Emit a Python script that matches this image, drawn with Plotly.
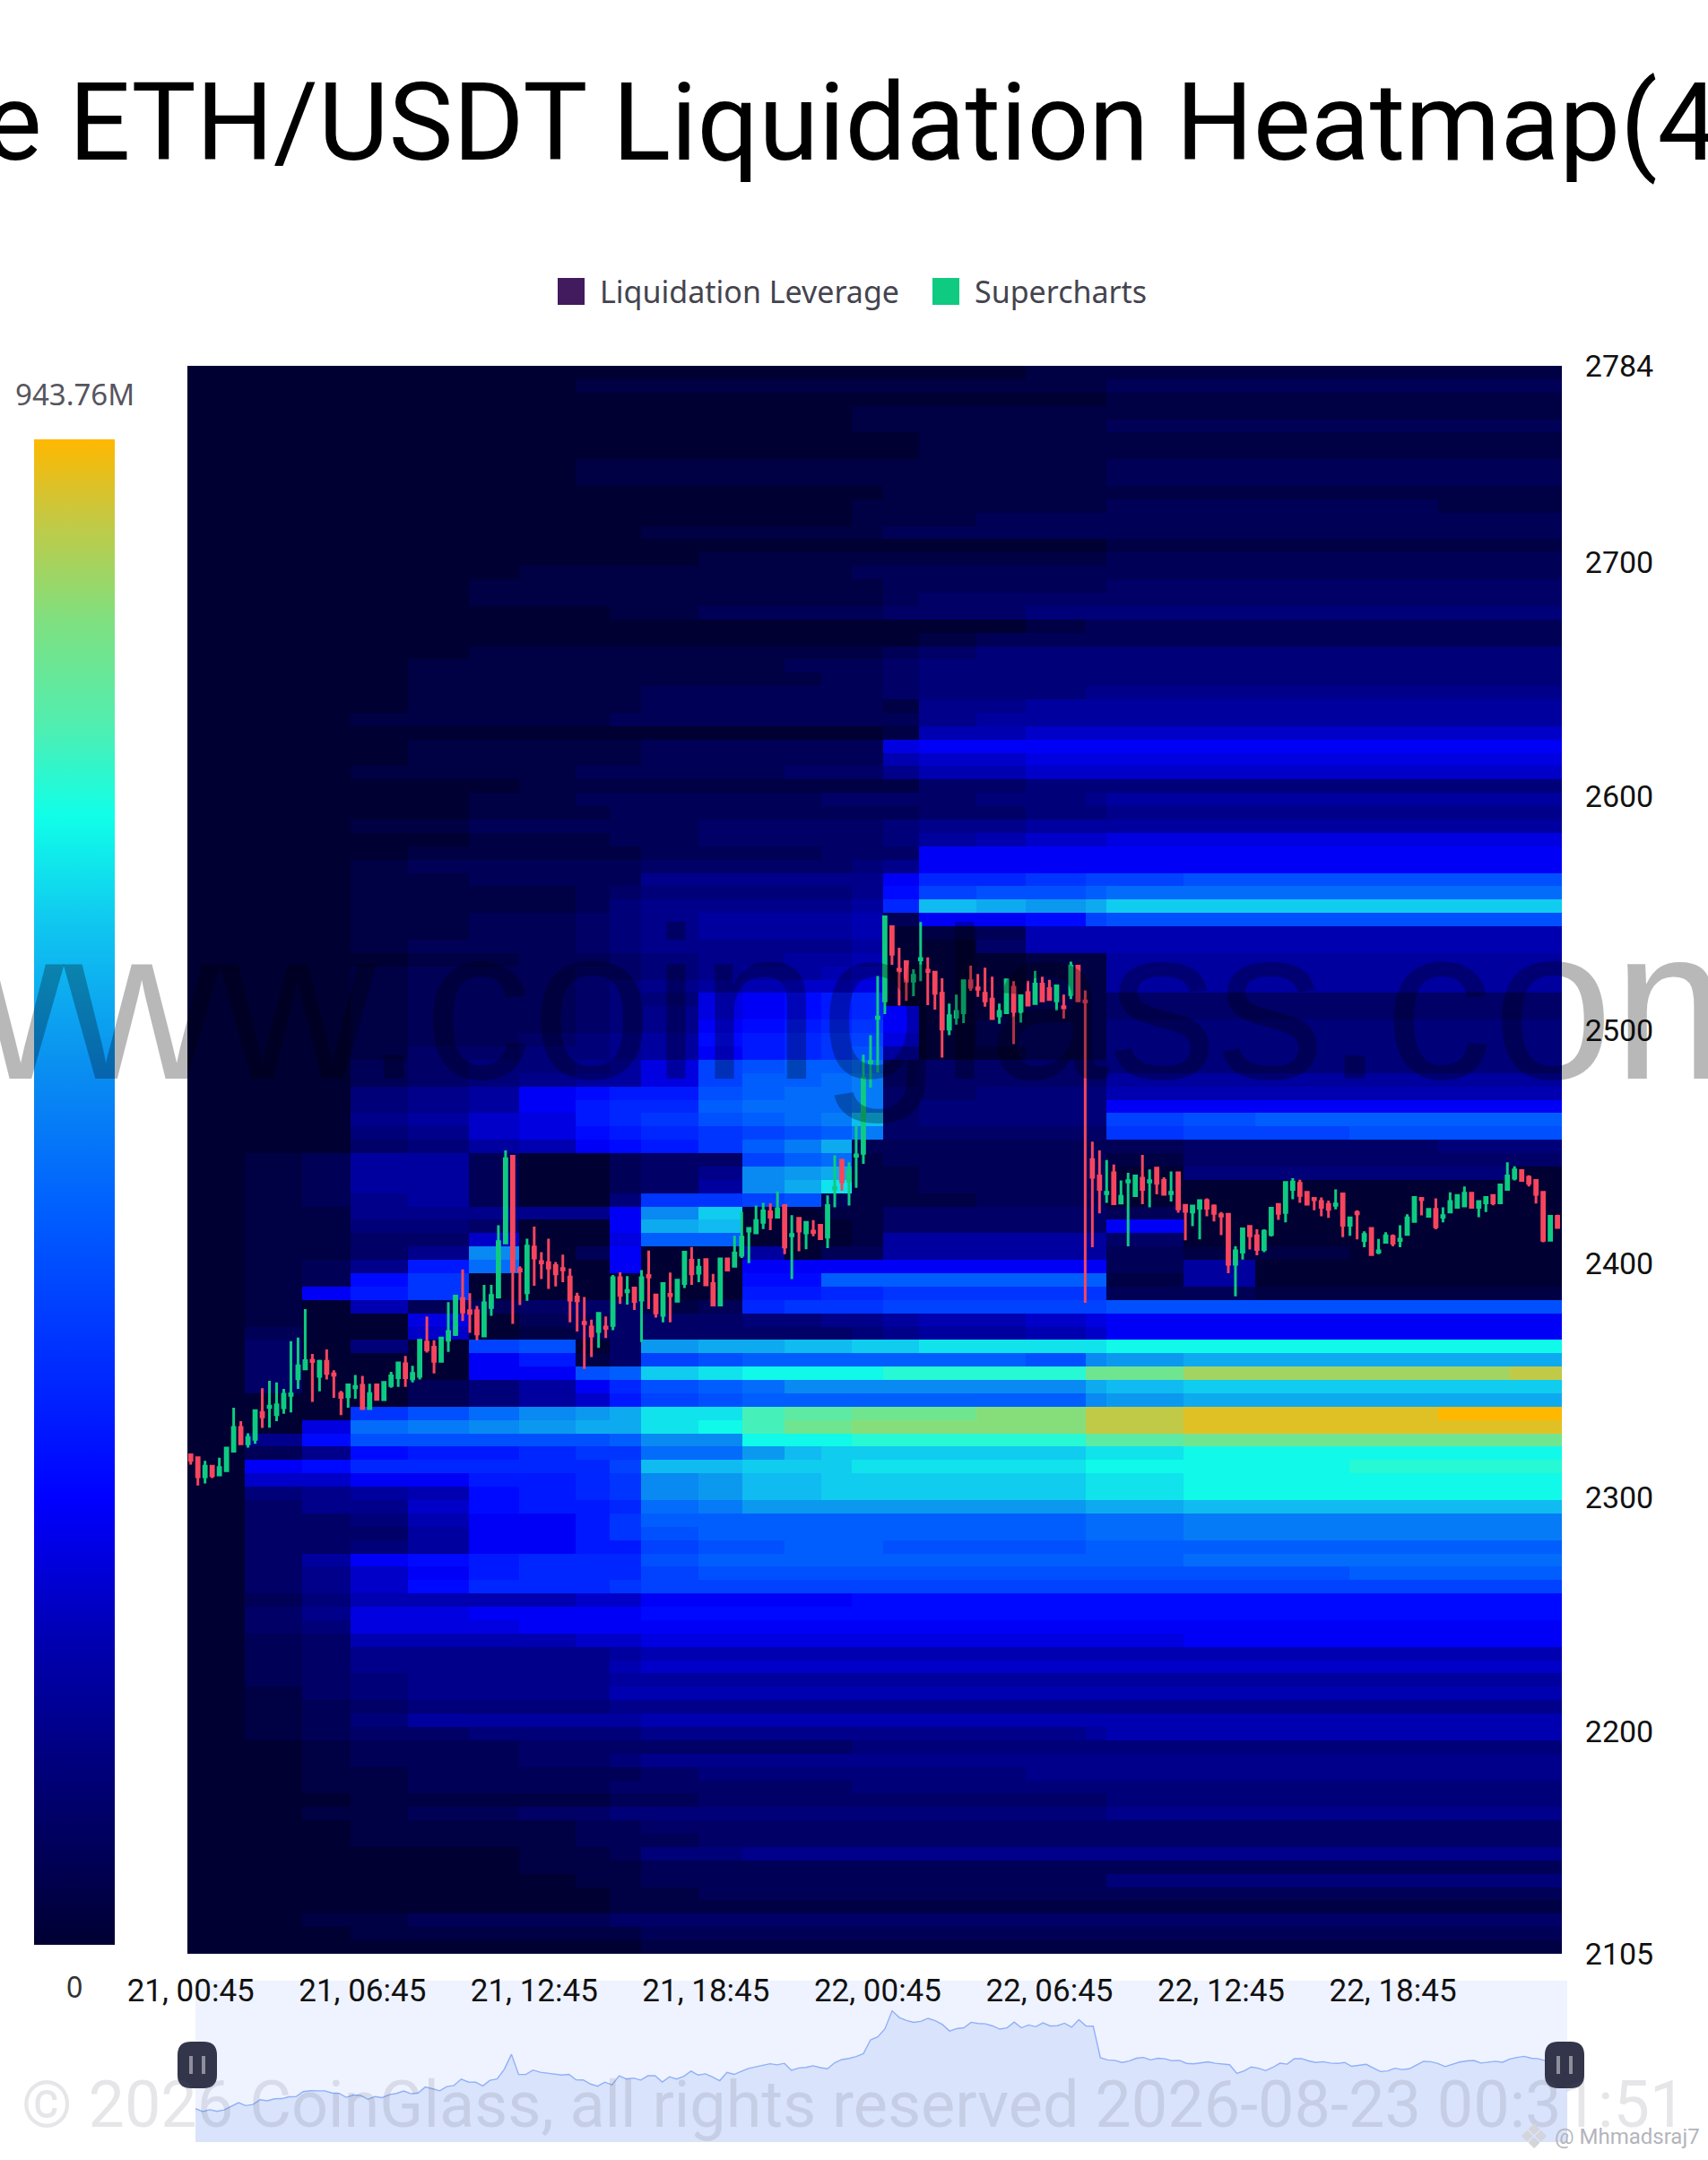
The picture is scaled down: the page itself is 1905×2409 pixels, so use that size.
import numpy as np
import pandas as pd
import plotly.graph_objs as go

W, H = 1905, 2409

TITLE = "Binance ETH/USDT Liquidation Heatmap(48 hour)"
MAX_LEVERAGE = 943.76  # millions, top of the colour bar
PRICE_TICKS = [2105, 2200, 2300, 2400, 2500, 2600, 2700, 2784]
TIME_TICKS = ["2026-08-21 00:45", "2026-08-21 06:45", "2026-08-21 12:45", "2026-08-21 18:45",
              "2026-08-22 00:45", "2026-08-22 06:45", "2026-08-22 12:45", "2026-08-22 18:45"]
TIME_LABELS = ["21, 00:45", "21, 06:45", "21, 12:45", "21, 18:45",
               "22, 00:45", "22, 06:45", "22, 12:45", "22, 18:45"]

# heatmap column edges, hours after 00:38 on the 21st
HOUR_EDGES = [0, 2.0, 4.0, 5.7, 7.7, 9.85, 11.6, 13.55, 14.75, 15.85, 17.85, 19.4, 20.85, 22.15, 23.2,
              24.3, 25.55, 27.55, 29.3, 31.4, 32.1, 34.8, 37.3, 40.6, 43.7, 46.2, 48.02]

# one string per price row, top row first, one base-36 level (0-35) per column
HEAT_ROWS = [
    "00000 00000 00000 00011 111111", "00000 00111 11111 11111 222222", "00000 00000 00000 00000 111111",
    "00000 00000 00001 11111 111111", "00000 00000 00001 11111 222222", "00000 00000 00000 01111 111111",
    "00000 00000 00000 01111 111111", "00000 00111 11111 11111 222222", "00000 00111 11111 11111 222222",
    "00000 00000 00000 11111 111111", "00000 00000 00001 11111 222211", "00000 00000 00001 11222 222222",
    "00000 00001 11111 22222 222222", "00000 00000 00000 00000 111111", "00000 00000 11111 11111 222222",
    "00000 01111 11112 22222 222222", "00000 11111 11111 22222 333333", "00000 11111 11111 23333 333333",
    "00000 00011 22222 33344 444444", "00000 00000 00000 00012 222222", "00000 00000 00000 01222 222222",
    "00000 11111 11111 23444 444444", "00001 11111 11222 34444 444444", "00001 11111 11122 34444 444444",
    "00001 11112 22222 34445 555555", "00001 11112 22222 15566 666666", "00011 11122 22222 25666 666666",
    "00000 00000 00000 17788 888888", "00001 11112 22222 9aaaa aaaaaa", "00001 11112 22222 78899 999999",
    "00011 11222 22333 57788 888888", "00000 01111 11111 13344 444444", "00000 11222 22233 33445 666666",
    "00000 11122 22222 23344 555555", "00011 22222 33333 45566 666666", "00000 11122 33333 46788 999999",
    "00001 11112 22233 3aaaa aaaaaa", "00012 22223 33334 5aaaa aaaaaa", "00011 22225 55555 addef fggggg",
    "00011 11234 44445 bfggh iiiiii", "00011 11245 55556 dnmlm oooooo", "00011 22345 66667 2aabf gggggg",
    "00011 22345 66667 01277 777777", "00012 22345 55556 00377 777777", "00001 12234 55667 00011 666666",
    "00012 22334 56678 00011 666666", "00012 22345 67889 00011 666666", "00012 22344 9abcd 00011 333333",
    "00012 22345 9abcd a0011 333333", "00012 22345 abcde a0111 444444", "00012 23456 bcdef 90111 444444",
    "00013 34456 acdeg 60011 444444", "00023 44569 fghhi 23333 444444", "00023 45669 fhhij 23333 666666",
    "00045 6abcc ghiij 33444 777777", "00045 6acdd hiiij 34444 aaaaaa", "00056 89cde ghijn 34444 fghhhh",
    "00045 89bcd efghj 33333 effggg", "00034 67abc ehjm2 22222 233344", "01266 20023 3fhi1 22222 133333",
    "01266 20023 5klm1 12222 044440", "01266 20023 6kmp1 12222 000000", "01256 2004e efg21 11222 000000",
    "01155 555ak o0011 33333 200000", "01144 300am n0001 33333 a00000", "01133 8009h h0001 66666 300000",
    "01135 k02a0 06022 66666 211000", "0125c i00a0 0aaaa aaaaa 260000", "012be 00000 0bbhh hhhhh 160000",
    "01ace 00000 0ccdd eeeee 221111", "01072 23331 2deee fffff gggggg", "01009 02233 34455 67789 aaaaaa",
    "02008 01233 33334 56678 aaaaaa", "03040 fg03l mmnno opppp qqqqqq", "03000 ac13f ghhhh hhhgk lmmmmm",
    "03000 aagho pqqqq rrrru uwwwwx", "03002 46adg hikkk kkkkm nooooo", "00002 468cf ghhhh hhhhk lmmmmm",
    "000eg iklmp psttu uuvvx xyyyzz", "009ij klmmp qsuuv vvvvx xyyyyy", "05bgg ggghk kqqqr rrrrt tuuuuu",
    "025bc cdeei ilnoo oooop pqqqqq", "0abdd dddfn nooop ppppq qqqrrr", "088aa ccdek lnnoo oooop pqqqqq",
    "04567 bcdek lnnoo oooop pqqqqq", "03558 bccdi jllll llllm mnnnnn", "03347 aaceh hhhhh hhhhi ijjjjj",
    "03336 aaceg hhhhh hhhhi ijjjjj", "03346 aaccf gghhh ggggh hhhhhh", "036ab cdddg hhhhh hhhhh hiiiii",
    "0358a cdddf ggggg ggggg ggghhh", "0358b dddef fffff fffff ffffff", "02477 7788a aaaab bbbbb bbbbbb",
    "03599 aaaab bbbbb bbbbb bbbbbb", "03499 9aaaa aaaaa aaaaa aaaaaa", "02377 77889 99999 99999 9aaaaa",
    "02355 55567 77777 77777 777777", "02355 55578 88888 88888 888888", "02345 55566 66666 66666 666666",
    "01345 55577 77777 77777 777777", "01234 44455 55555 55555 555555", "01246 66667 77777 77777 777777",
    "01233 44445 55555 55556 777777", "00122 23333 33334 44444 444444", "00122 23345 55555 55555 555555",
    "00112 22223 44444 44455 555555", "00112 22233 33334 44444 444444", "00011 11122 33333 33333 444444",
    "00112 23344 44444 44444 555555", "00011 11223 33333 33333 333333", "00011 11222 33333 33333 333333",
    "00000 01124 45555 55555 555555", "00000 01112 22222 22222 222222", "00000 00112 22222 22222 444444",
    "00000 00011 22222 22222 222222", "00000 00011 11111 11111 111111", "00112 22233 33333 33333 333333",
    "00011 11112 22222 22222 222222", "00000 00001 11111 11111 111111",
]

# 15 minute candles
OPEN = [2318.4, 2317.1, 2309, 2313.5, 2309.7, 2311.6, 2319.9, 2330.1, 2323.1, 2325, 2336.5, 2338.6, 2335.5, 2338.5, 2343.8, 2350.9,
        2355.1, 2358.8, 2351.9, 2358.3, 2353, 2344.5, 2343.2, 2347, 2348.1, 2338.1, 2348.3, 2341.9, 2348, 2351.3, 2357.3, 2350.9,
        2351.9, 2366.6, 2364.4, 2358.3, 2367.3, 2369.8, 2385.2, 2380, 2380, 2369.2, 2381.3, 2385.8, 2408.9, 2446, 2397.6, 2387.7,
        2407.2, 2401, 2400.5, 2399.3, 2398, 2394.4, 2385.8, 2375, 2373, 2371.1, 2373, 2373.7, 2394.1, 2388, 2389.7, 2384.5,
        2395, 2386.7, 2378, 2387, 2384, 2391.6, 2401.6, 2396, 2401.8, 2391.6, 2382.4, 2402.1, 2399, 2403.7, 2414, 2413.3,
        2417.8, 2422.3, 2420, 2424.9, 2412, 2419.5, 2413.3, 2414, 2416.5, 2411.4, 2432, 2444.3, 2435.4, 2446, 2447.3, 2486,
        2505, 2512.5, 2544.2, 2526, 2529.2, 2520.9, 2530, 2525.6, 2524.7, 2515.7, 2500.4, 2505.5, 2507.4, 2521.1, 2518, 2515.7,
        2513.2, 2506, 2507.4, 2518.3, 2508, 2516, 2511.3, 2519.6, 2517.7, 2512.5, 2510, 2515.1, 2527.3, 2512.5, 2444.6, 2437.6,
        2430, 2438.9, 2426, 2435, 2429.2, 2436.6, 2435, 2441, 2435.7, 2430, 2438.9, 2425, 2422.2, 2423.8, 2427.1, 2424.8,
        2421, 2421.2, 2399.8, 2405, 2416, 2412, 2406.2, 2412.6, 2425.4, 2422, 2431.8, 2434.4, 2430.6, 2428, 2426.7, 2425.4,
        2425, 2429.9, 2416.5, 2422, 2410, 2415.2, 2405, 2409.2, 2411.7, 2410, 2412.6, 2418.1, 2428, 2420.3, 2423.3, 2420,
        2422.2, 2424.2, 2424.8, 2430.2, 2424.2, 2426.1, 2429.3, 2426.1, 2431.8, 2436.6, 2439.9, 2437, 2435.7, 2430.6, 2410.1, 2420.3]
HIGH = [2318.9, 2317.3, 2315.8, 2313.5, 2317.1, 2321.2, 2338.5, 2332.7, 2327.6, 2337.2, 2346.8, 2350, 2349.3, 2346.5, 2367, 2368.5,
        2380.7, 2361.5, 2359, 2363.4, 2354.5, 2345.7, 2348.7, 2352.5, 2352.1, 2348.7, 2348.3, 2349.3, 2353.8, 2357.7, 2360.6, 2356.4,
        2367.3, 2377.5, 2367.3, 2368.3, 2383.6, 2386.2, 2397.6, 2387.5, 2382, 2391, 2391, 2416.5, 2448.5, 2446, 2399, 2410.8,
        2415.9, 2405, 2410.8, 2400.8, 2404, 2398, 2387.7, 2385.8, 2376.2, 2378.8, 2377.5, 2395.2, 2396.4, 2394.8, 2389.9, 2397.3,
        2405.7, 2386.7, 2391.6, 2396.3, 2393.1, 2405, 2407.2, 2402.1, 2401.8, 2395.7, 2402.1, 2402.1, 2412, 2422.3, 2415.2, 2424.9,
        2426.1, 2425.9, 2431, 2424.9, 2420.8, 2419.5, 2417.8, 2418.7, 2416.5, 2429.3, 2446.4, 2444.3, 2443.4, 2459.2, 2489.5, 2497.8,
        2523.2, 2548.4, 2544.2, 2535.2, 2529.2, 2526, 2546.2, 2531.1, 2524.7, 2522.1, 2511.3, 2515.1, 2521.1, 2527.5, 2524, 2526.6,
        2522.8, 2511.3, 2521.5, 2520.9, 2515.1, 2521.1, 2525.3, 2522.8, 2521.5, 2518.9, 2515.1, 2529.2, 2527.3, 2517, 2452.3, 2448.5,
        2444.4, 2442.5, 2435.7, 2438.9, 2437.9, 2446.6, 2440.4, 2441, 2437, 2439.5, 2438.9, 2425, 2425, 2427.1, 2428, 2425.4,
        2422.2, 2421.2, 2407.5, 2415, 2416.5, 2414.8, 2414.8, 2424.2, 2425.4, 2434.8, 2436.6, 2436, 2430.6, 2428, 2428.4, 2427.1,
        2431.8, 2429.9, 2419.7, 2422.9, 2413.9, 2415.2, 2410.7, 2413.5, 2412.6, 2416.5, 2421.2, 2428.4, 2428, 2423.8, 2428, 2424.2,
        2430.6, 2429.3, 2433.1, 2430.6, 2427.1, 2428.6, 2429.7, 2434, 2443.4, 2441.7, 2439.9, 2437.9, 2435.7, 2430.6, 2420.3, 2421]
LOW = [2314.1, 2305.2, 2306.1, 2308.4, 2309.4, 2311.2, 2319.9, 2322.7, 2321.4, 2323.1, 2329.9, 2330, 2332.7, 2335.9, 2336.5, 2346.5,
       2355.1, 2341, 2345.5, 2350.6, 2342.7, 2335.3, 2338.5, 2342.3, 2338.1, 2338.1, 2341.9, 2341.7, 2347, 2347.4, 2347.4, 2349.3,
       2350.6, 2362.1, 2353.2, 2358.3, 2362.4, 2369.2, 2375.6, 2370.5, 2367.3, 2369.2, 2377.8, 2385.2, 2408.9, 2374.3, 2382.4, 2384.2,
       2390.6, 2393.5, 2389.3, 2390.3, 2392.2, 2375, 2371.1, 2355.1, 2360.2, 2364.1, 2368.3, 2371.7, 2382.9, 2382.6, 2380.3, 2366.6,
       2380.7, 2377, 2375, 2375, 2384, 2389.7, 2391, 2392.2, 2390.6, 2382.4, 2382.4, 2397.3, 2399, 2402.5, 2400.3, 2412.7,
       2414.9, 2414.4, 2420, 2404.1, 2393.5, 2405.4, 2406.3, 2411.8, 2410.5, 2406.7, 2424.2, 2431.3, 2424.9, 2432.5, 2442.8, 2475.4,
       2481.8, 2506.8, 2527.9, 2510.4, 2512.5, 2514.5, 2520.9, 2510.6, 2508.7, 2488.2, 2497.8, 2502.3, 2503, 2516.8, 2514.2, 2510,
       2504.9, 2502.7, 2507, 2494, 2503.2, 2510.6, 2511.3, 2511.9, 2513, 2508.3, 2504.9, 2513.2, 2512.5, 2383.3, 2407.1, 2421.6,
       2426.1, 2425.5, 2425.5, 2407.5, 2428.9, 2425.5, 2424.2, 2429.7, 2429.7, 2426.7, 2421.9, 2410.1, 2416.1, 2410.5, 2420.3, 2418.1,
       2412.3, 2396, 2386.1, 2401.8, 2406.2, 2403.7, 2405, 2411.7, 2418.8, 2417.8, 2427.6, 2426.1, 2425, 2422.9, 2420.3, 2419.7,
       2423.3, 2411.4, 2412, 2410.5, 2407.1, 2404, 2404.1, 2408.8, 2407.5, 2407.1, 2412.3, 2417.8, 2420.7, 2420.3, 2414.8, 2417.8,
       2422, 2423.8, 2424.2, 2424.2, 2420, 2422.2, 2425, 2425.8, 2431.8, 2435.7, 2435.3, 2433.1, 2425.8, 2409.2, 2410.1, 2415.2]
CLOSE = [2316, 2309, 2313.5, 2309.4, 2312.9, 2321.2, 2330.1, 2323.1, 2325.7, 2337.2, 2334.6, 2339.2, 2339.7, 2344.2, 2344.4, 2356.4,
         2358.6, 2358.2, 2358.3, 2353.2, 2352.4, 2342.9, 2348.3, 2347.6, 2338.1, 2344.5, 2342, 2349.3, 2352.1, 2357.7, 2351.3, 2353.2,
         2367.3, 2363.2, 2358.3, 2368.3, 2371.1, 2386.2, 2379.4, 2378.8, 2370, 2383.3, 2386.5, 2409.5, 2445, 2397, 2397, 2407.6,
         2402.5, 2400.4, 2398.2, 2395.7, 2397.4, 2384.5, 2384.2, 2374.4, 2369.2, 2378.8, 2372.4, 2394.1, 2386.5, 2388.6, 2383.9, 2394.1,
         2394.4, 2379, 2391.6, 2386.4, 2393, 2405, 2395.7, 2398.6, 2391, 2382.4, 2402.1, 2397.3, 2404.6, 2411.4, 2415.2, 2418.5,
         2422.6, 2420, 2423.6, 2407.2, 2412.6, 2414, 2417.8, 2413.4, 2410.8, 2424.9, 2432.6, 2435.1, 2439.6, 2446.6, 2479.3, 2486.6,
         2505.6, 2548.4, 2532.4, 2525.4, 2520.9, 2523.4, 2530.6, 2525, 2515.7, 2500.4, 2506.1, 2508, 2521.1, 2518.3, 2517.4, 2512.5,
         2504.9, 2508, 2521.5, 2508, 2514.7, 2510.6, 2519.6, 2512.5, 2513, 2518.9, 2509.4, 2527.3, 2512.5, 2512, 2437, 2431.8,
         2430.6, 2425.7, 2428.9, 2435.6, 2437.6, 2431.8, 2435.6, 2434.4, 2429.7, 2430.6, 2423.5, 2422.5, 2424.8, 2427.1, 2423.8, 2421.6,
         2420.4, 2399.8, 2405.6, 2415, 2412, 2406.2, 2413.9, 2423.8, 2421.6, 2434.8, 2435, 2429.3, 2425.5, 2427.4, 2424.2, 2423.3,
         2425.6, 2416.5, 2419.7, 2421.4, 2412.6, 2404, 2405.6, 2412, 2408.8, 2410.6, 2419.7, 2428.4, 2427.4, 2423.3, 2415.8, 2420.6,
         2426.7, 2429.3, 2430.2, 2424.2, 2426.7, 2428.4, 2426.1, 2433.8, 2437.6, 2440.2, 2435.7, 2434.4, 2429.7, 2410.1, 2420.3, 2415.6]

# colour bar stops
COLORS = [[0, "#000033"], [0.10, "#000070"], [0.20, "#0000b0"], [0.295, "#0000ff"], [0.425, "#0040ff"],
          [0.49, "#0060ff"], [0.585, "#0a90f0"], [0.68, "#10c8f0"], [0.75, "#10ffe8"], [0.81, "#50eeb0"],
          [0.88, "#80e080"], [0.95, "#c8c840"], [1, "#ffb800"]]


def hx(px):
    return px / W


def vy(py):
    return 1 - py / H


def rounded(x0, y0, x1, y1, r):
    # rounded rect path in paper units, given in pixels
    p = lambda x, y: f"{hx(x)},{vy(y)}"
    return (f"M {p(x0 + r, y0)} L {p(x1 - r, y0)} Q {p(x1, y0)} {p(x1, y0 + r)} L {p(x1, y1 - r)} "
            f"Q {p(x1, y1)} {p(x1 - r, y1)} L {p(x0 + r, y1)} Q {p(x0, y1)} {p(x0, y1 - r)} "
            f"L {p(x0, y0 + r)} Q {p(x0, y0)} {p(x0 + r, y0)} Z")


start = pd.Timestamp("2026-08-21 00:38")
candle_times = pd.date_range("2026-08-21 00:45", periods=len(OPEN), freq="15min")
x_edges = [start + pd.Timedelta(hours=h) for h in HOUR_EDGES]
y_edges = np.linspace(2105, 2784, len(HEAT_ROWS) + 1)
z = [[int(c, 36) / 35 * MAX_LEVERAGE for c in row.replace(" ", "")] for row in HEAT_ROWS[::-1]]

heat = go.Heatmap(x=x_edges, y=y_edges, z=z, zmin=0, zmax=MAX_LEVERAGE, colorscale=COLORS, hoverinfo="skip",
                  colorbar=dict(x=hx(38), xanchor="left", y=vy(2169), yanchor="bottom", thickness=90,
                                len=1679, lenmode="pixels", xpad=0, ypad=0, outlinewidth=0, borderwidth=0,
                                showticklabels=False, ticks=""))
candles = go.Candlestick(x=candle_times, open=OPEN, high=HIGH, low=LOW, close=CLOSE, whiskerwidth=0,
                         increasing=dict(line=dict(color="#0ecb81", width=3), fillcolor="#0ecb81"),
                         decreasing=dict(line=dict(color="#f6465d", width=3), fillcolor="#f6465d"))
overview = go.Scatter(x=candle_times, y=CLOSE, mode="lines", line=dict(color="#8fb0f7", width=1.4),
                      fill="tozeroy", fillcolor="#d9e3fb", xaxis="x2", yaxis="y2", hoverinfo="skip")

fig = go.Figure(data=[heat, candles, overview])

shapes = [
    dict(type="rect", xref="paper", yref="paper", x0=hx(218), x1=hx(1748), y0=vy(2389), y1=vy(2209),
         fillcolor="#eff3ff", line_width=0, layer="below"),
    dict(type="rect", xref="paper", yref="paper", x0=hx(622), x1=hx(652), y0=vy(340), y1=vy(310),
         fillcolor="#421a5e", line_width=0),
    dict(type="rect", xref="paper", yref="paper", x0=hx(1040), x1=hx(1070), y0=vy(340), y1=vy(310),
         fillcolor="#0ecb81", line_width=0),
]
for cx in [220, 1745]:
    shapes.append(dict(type="path", xref="paper", yref="paper", path=rounded(cx - 22, 2277, cx + 22, 2329, 15),
                       fillcolor="#33354a", line_width=0))
    for dx in [-7, 7]:
        shapes.append(dict(type="rect", xref="paper", yref="paper", x0=hx(cx + dx - 2), x1=hx(cx + dx + 2),
                           y0=vy(2313), y1=vy(2293), fillcolor="#8e8f9b", line_width=0))


def label(text, x, y, size, color, font="Noto Sans", anchor="center"):
    return dict(text=text, xref="paper", yref="paper", x=hx(x), y=vy(y), xanchor=anchor, yanchor="middle",
                showarrow=False, font=dict(family=font, size=size, color=color))


annotations = [
    label("www.coinglass.com", 948, 1120, 241, "rgba(0,0,0,0.28)", "Liberation Sans"),
    label("© 2026 CoinGlass, all rights reserved 2026-08-23 00:31:51", 952, 2347, 72, "rgba(90,90,110,0.15)", "Roboto"),
    label("Liquidation Leverage", 667, 325, 34, "#44444f", anchor="left"),
    label("Supercharts", 1085, 325, 34, "#44444f", anchor="left"),
    label("943.76M", 83, 439, 33, "#55555f"),
    label("0", 83, 2215, 32, "#333333"),
    label("❖", 1711, 2383, 38, "#d4d4da", "DejaVu Sans"),
    label("@ Mhmadsraj7", 1732, 2383, 24, "#b4b4bc", "Roboto", anchor="left"),
]

fig.update_layout(
    width=W, height=H, margin=dict(l=0, r=0, t=0, b=0, pad=0, autoexpand=False), showlegend=False,
    paper_bgcolor="white", plot_bgcolor="white", boxgap=0.5,
    title=dict(text=TITLE, x=0.5026, xanchor="center", y=vy(136), yanchor="middle",
               font=dict(family="Roboto", size=121, color="#000000")),
    xaxis=dict(domain=[hx(209), hx(1742)], range=[start, start + pd.Timedelta(hours=48.02)], type="date",
               rangeslider=dict(visible=False), tickvals=TIME_TICKS, ticktext=TIME_LABELS, showgrid=False,
               zeroline=False, ticks="outside", ticklen=10, tickcolor="rgba(0,0,0,0)",
               tickfont=dict(family="Roboto", size=35, color="#111111")),
    yaxis=dict(domain=[vy(2179), vy(408)], range=[2105, 2784], side="right", tickvals=PRICE_TICKS,
               showgrid=False, zeroline=False, ticks="outside", ticklen=18, tickcolor="rgba(0,0,0,0)",
               tickfont=dict(family="Roboto", size=34, color="#111111")),
    xaxis2=dict(domain=[hx(218), hx(1748)], range=[candle_times[0], candle_times[-1]], type="date",
                anchor="y2", visible=False),
    yaxis2=dict(domain=[vy(2389), vy(2209)], range=[2236.5, 2620], anchor="x2", visible=False),
    shapes=shapes, annotations=annotations,
)

fig.write_html("out.html", config=dict(displayModeBar=False), post_script="document.body.style.margin='0';")
